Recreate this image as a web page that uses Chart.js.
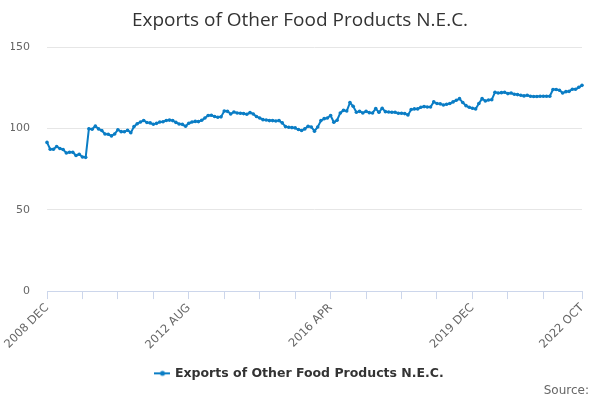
<!DOCTYPE html>
<html>
<head>
<meta charset="utf-8">
<script src="https://cdn.jsdelivr.net/npm/chart.js@4"></script>
<style>
html,body{margin:0;padding:0;background:#fff;}
#wrap{width:600px;height:400px;}
</style>
</head>
<body>
<div id="wrap"><canvas id="c" width="600" height="400"></canvas></div>
<script>
const TITLE = 'Exports of Other Food Products N.E.C.';
const SERIES_NAME = 'Exports of Other Food Products N.E.C.';
const MONTHS = ['JAN','FEB','MAR','APR','MAY','JUN','JUL','AUG','SEP','OCT','NOV','DEC'];
const START_YEAR = 2008, START_MONTH = 11; // Dec 2008
const values = [
 91.5, 87.3, 87.3, 89.0, 87.7, 87.1, 85.0, 85.4, 85.4, 83.4,
 84.2, 82.5, 82.3, 99.9, 99.6, 101.5, 99.8, 98.8, 96.7, 96.5,
 95.5, 96.7, 99.3, 98.1, 98.0, 99.0, 97.5, 101.2, 103.0, 104.0,
 105.0, 103.7, 103.5, 102.7, 103.2, 104.0, 104.2, 105.0, 105.2, 104.9,
 103.8, 102.8, 102.6, 101.4, 103.3, 104.0, 104.4, 104.3, 105.1, 106.5,
 108.0, 108.2, 107.4, 107.0, 107.2, 110.8, 110.6, 109.0, 110.2, 109.6,
 109.4, 109.2, 108.8, 109.8, 109.0, 107.4, 106.5, 105.5, 105.3, 104.9,
 104.9, 104.7, 104.9, 103.5, 101.2, 100.8, 100.6, 100.4, 99.4, 98.8,
 99.8, 101.4, 101.0, 98.4, 101.0, 104.9, 106.1, 106.5, 108.0, 103.9,
 105.1, 109.6, 111.2, 110.8, 116.0, 113.7, 110.0, 110.6, 109.6, 110.6,
 109.8, 109.6, 112.3, 110.0, 112.5, 110.4, 110.2, 110.0, 110.0, 109.4,
 109.4, 109.2, 108.4, 111.7, 112.1, 112.1, 113.1, 113.5, 113.3, 113.3,
 116.4, 115.4, 115.2, 114.5, 115.0, 115.4, 116.4, 117.4, 118.4, 116.0,
 114.1, 113.1, 112.5, 112.1, 115.4, 118.4, 117.0, 117.6, 117.8, 122.3,
 121.9, 122.1, 122.3, 121.5, 121.9, 121.1, 120.9, 120.5, 120.1, 120.5,
 119.9, 119.7, 119.7, 119.9, 119.9, 119.9, 119.9, 124.0, 124.0, 123.6,
 121.9, 122.7, 122.9, 124.2, 124.2, 125.4, 126.6
];
const labels = [];
for (let i = 0; i < values.length; i++) {
  const m = (START_MONTH + i) % 12;
  const y = START_YEAR + Math.floor((START_MONTH + i) / 12);
  labels.push(y + ' ' + MONTHS[m]);
}
const yTicks = [0, 50, 100, 150];
const TICK_EVERY = 11, LABEL_EVERY = 44;
const LAST = labels.length - 1;
const isTick = i => (i % TICK_EVERY === 0 && LAST - i > 2) || i === LAST;
const isLabel = i => i % LABEL_EVERY === 0 || i === LAST;

const COLOR = '#0a7dc5';
// legend marker: line with dot
const mk = document.createElement('canvas');
mk.width = 16; mk.height = 10;
(function(){
  const g = mk.getContext('2d');
  g.strokeStyle = COLOR; g.lineWidth = 2;
  g.beginPath(); g.moveTo(0,5); g.lineTo(16,5); g.stroke();
  g.fillStyle = COLOR; g.beginPath(); g.arc(8,5,2.5,0,Math.PI*2); g.fill();
})();

new Chart(document.getElementById('c'), {
  type: 'line',
  data: {
    labels: labels,
    datasets: [{
      label: SERIES_NAME,
      data: values,
      borderColor: COLOR,
      backgroundColor: COLOR,
      pointBackgroundColor: COLOR,
      pointBorderColor: COLOR,
      pointRadius: 1.8,
      pointBorderWidth: 0,
      borderWidth: 2,
      tension: 0,
      pointStyle: 'circle'
    }]
  },
  options: {
    responsive: false,
    animation: false,
    devicePixelRatio: 1,
    layout: { padding: { top: 9, right: 11, bottom: 2, left: 11 } },
    plugins: {
      title: {
        display: true, text: TITLE, color: '#333333',
        font: { family: 'Open Sans', size: 19, weight: 'normal' },
        padding: { top: 0, bottom: 15.5 }
      },
      subtitle: {
        display: true, text: 'Source:', position: 'bottom', align: 'end',
        color: '#666666', font: { family: 'DejaVu Sans', size: 12 },
        padding: { top: -6, bottom: 0 }
      },
      legend: {
        position: 'bottom',
        labels: {
          usePointStyle: true,
          pointStyle: mk,
          color: '#333333',
          font: { family: 'DejaVu Sans', size: 12.5, weight: 'bold' },
          padding: 10
        }
      },
      tooltip: { enabled: false }
    },
    scales: {
      x: {
        type: 'category',
        offset: false,
        grid: {
          display: true, drawOnChartArea: false, drawTicks: true, tickLength: 8, offset: false,
          color: ctx => isTick(ctx.index) ? '#ccd6eb' : 'rgba(0,0,0,0)'
        },
        border: { display: true, color: '#ccd6eb' },
        ticks: {
          autoSkip: false, minRotation: 45, maxRotation: 45,
          color: '#666666', font: { family: 'DejaVu Sans', size: 11.5 }, padding: 2,
          callback: (v, i) => isLabel(i) ? labels[i] : ''
        },
        afterFit: s => { s.height = 66; s.paddingRight = 18; }
      },
      y: {
        min: 0, max: 150,
        afterBuildTicks: s => { s.ticks = yTicks.map(v => ({ value: v })); },
        grid: { color: '#e6e6e6', drawTicks: false },
        border: { display: false },
        ticks: { color: '#666666', font: { family: 'DejaVu Sans', size: 11 }, padding: 17 },
        afterFit: s => { s.width = 36; }
      }
    }
  }
});
</script>
</body>
</html>
